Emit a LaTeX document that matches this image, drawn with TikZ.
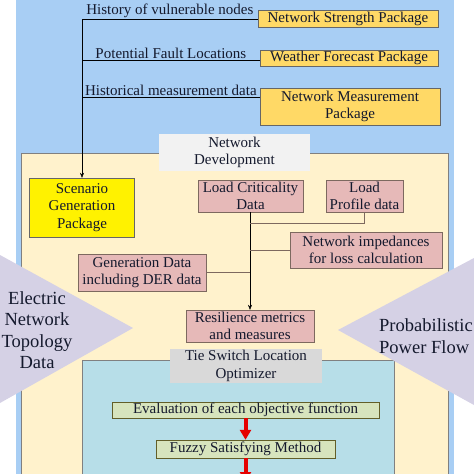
\documentclass[tikz,border=0pt]{standalone}
\usepackage{fontspec}
\setmainfont{Liberation Serif}
\usetikzlibrary{positioning, arrows.meta}
\definecolor{skyback}{RGB}{168,206,244}
\definecolor{creamback}{RGB}{255,242,204}
\definecolor{tealback}{RGB}{183,222,232}
\definecolor{pkgorange}{RGB}{255,217,102}
\definecolor{datapink}{RGB}{230,185,184}
\definecolor{optgreen}{RGB}{215,228,189}
\definecolor{lavender}{RGB}{213,209,229}
\definecolor{linebrown}{RGB}{125,105,95}
\definecolor{inkblue}{RGB}{20,25,45}

\begin{document}
\begin{tikzpicture}[x=1pt, y=-1pt, font=\fontsize{15}{17.5}\selectfont, text=inkblue,
        box/.style={inner sep=0pt, align=center},
        pkg/.style={box, draw=gray!80!black, fill=pkgorange},
        data/.style={box, draw=linebrown, fill=datapink},
        opt/.style={box, draw=olive!60!black, fill=optgreen},
        tag/.style={box},
        side/.style={font=\fontsize{18.5}{21.5}\selectfont},
        link/.style={draw=linebrown, thin},
        flow/.style={draw=red!90!black, line width=4pt, -{Triangle[length=10pt, width=11pt]}}]
    \useasboundingbox (0,0) rectangle (474,474);
    \clip (0,0) rectangle (474,474);
    % panels
    \fill[skyback] (16,0) rectangle (454,474);
    \draw[gray, fill=creamback] (21,153) rectangle (448,484);
    \draw[gray, fill=tealback] (82,360) rectangle (394,484);
    % packages on top
    \node[pkg, minimum width=180pt, minimum height=17pt] (nsp) at (348,18.5) {Network Strength Package};
    \node[pkg, minimum width=178pt, minimum height=16pt] (wfp) at (349,58) {Weather Forecast Package};
    \node[pkg, minimum width=180pt, minimum height=37pt] (nmp) at (350,106.5) {Network Measurement\\Package};
    \node[pkg, fill=yellow, minimum width=105pt, minimum height=59pt] (sgp) at (82,207.5) {Scenario\\Generation\\Package};
    \coordinate (trunk) at (82,19);
    \foreach \pk/\yy/\lb in {nsp/19/History of vulnerable nodes, wfp/60/Potential Fault Locations, nmp/97/Historical measurement data}{
        \coordinate (tap-\pk) at (82,\yy);
        \draw (tap-\pk) -- (tap-\pk -| \pk.west) node[midway, above, inner sep=1pt] (lb-\pk) {\lb};
    }
    \draw[-{Stealth[length=5pt, width=4pt]}] (trunk) -- (sgp.north);
    % network development
    \node[tag, fill=gray!10, minimum width=151pt, minimum height=37pt] (nd) at (234.5,152.5) {Network\\Development};
    \node[data, minimum width=105pt, minimum height=32pt] (lcd) at (250.5,196) {Load Criticality\\Data};
    \node[data, minimum width=77pt, minimum height=32pt] (lpd) at (364.5,196) {Load\\Profile data};
    \node[data, minimum width=152pt, minimum height=36pt] (nid) at (366,250) {Network impedances\\for loss calculation};
    \node[data, minimum width=128pt, minimum height=37pt] (gdd) at (142,272.5) {Generation Data\\including DER data};
    \node[data, minimum width=128pt, minimum height=32pt] (rmm) at (250,326) {Resilience metrics\\and measures};
    \coordinate (hub) at (250,223);
    \draw[-{Stealth[length=5pt, width=4pt]}] (lcd.south -| rmm.north) -- (rmm.north);
    \draw[link] (lpd.south) |- (hub);
    \draw[link] (nid.west) -- (nid.west -| rmm.north);
    \draw[link] (gdd.east) -- (gdd.east -| rmm.north);
    % optimizer
    \node[tag, fill=gray!30, minimum width=152pt, minimum height=34pt] (tsl) at (246,366) {Tie Switch Location\\Optimizer};
    \node[opt, minimum width=267pt, minimum height=16pt] (eof) at (245.5,410) {Evaluation of each objective function};
    \node[opt, minimum width=179pt, minimum height=18pt] (fsm) at (245.5,449) {Fuzzy Satisfying Method};
    \coordinate (next) at (245.5,482);
    \draw[flow] (eof.south) -- (fsm.north);
    \draw[flow] (fsm.south) -- (next);
    % side inputs
    \fill[lavender] (0,255) -- (133,328) -- (0,403) -- cycle;
    \fill[lavender] (474,258) -- (338,330) -- (474,405) -- cycle;
    \node[side, align=center] (ent) at (37,330) {Electric\\Network\\Topology\\Data};
    \node[side, align=left, anchor=west, inner sep=0pt] (ppf) at (379,336) {Probabilistic\\Power Flow};
\end{tikzpicture}
\end{document}
